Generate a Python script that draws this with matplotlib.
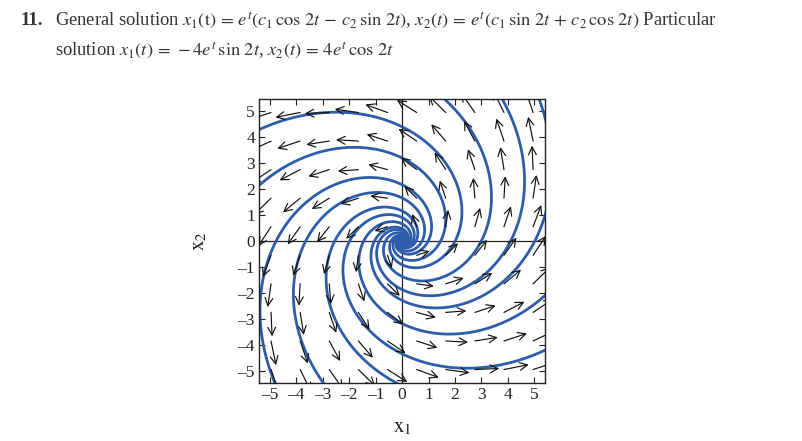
import numpy as np
import matplotlib
matplotlib.use("Agg")
import matplotlib.pyplot as plt
from matplotlib.patches import FancyArrowPatch

plt.rcParams['font.family'] = ['Liberation Serif', 'DejaVu Serif']
plt.rcParams['mathtext.fontset'] = 'stix'

# system x' = A x
A = np.array([[1.0, -2.0], [2.0, 1.0]])
# direction field sample points (same for x1 and x2)
grid_pts = [-4.95, -3.85, -2.75, -1.65, -0.55, 0.55, 1.65, 2.75, 3.85, 4.95]
# trajectories: c1 = 0, c2 = x2 value at t = 0
c2_vals = [20.9, 15.3, 11.0, 9.0, 6.57, 4.4, 3.2, 2.17, 1.66, 1.16]
ticks = [-5, -4, -3, -2, -1, 0, 1, 2, 3, 4, 5]

line1 = (r"General solution $x_1(\mathrm{t})\, =\, e^t(c_1\,\cos\, 2t\, -\, c_2\,\sin\, 2t)$, "
         r"$x_2(t)\, =\, e^t(c_1\,\sin\, 2t\, +\, c_2\,\cos\, 2t)$ Particular")
line2 = r"solution $x_1(t)\, =\, -4e^t\,\sin\, 2t$, $x_2(t)\, =\, 4e^t\,\cos\, 2t$"

fig = plt.figure(figsize=(8.03, 4.41), dpi=100)
fig.text(0.026, 0.953, "11.", fontsize=13.5, fontweight='bold', color='#333333', va='center')
fig.text(0.068, 0.953, line1, fontsize=13.3, color='#333333', va='center')
fig.text(0.068, 0.885, line2, fontsize=13.3, color='#333333', va='center')

ax = fig.add_axes([0.3227, 0.1315, 0.356, 0.644])
lim_x, lim_y = 5.4, 5.47
ax.set_xlim(-lim_x, lim_x)
ax.set_ylim(-lim_y, lim_y)

ax.axhline(0, color='#222222', lw=0.9, zorder=1)
ax.axvline(0, color='#222222', lw=0.9, zorder=1)

t = np.linspace(-11, 3, 7000)
for c2 in c2_vals:
    x1 = -c2 * np.exp(t) * np.sin(2 * t)
    x2 = c2 * np.exp(t) * np.cos(2 * t)
    ax.plot(x1, x2, color='#2D5CAA', lw=2.0, zorder=2, solid_capstyle='round')

for gx in grid_pts:
    for gy in grid_pts:
        p = np.array([gx, gy])
        v = A @ p
        mag = np.hypot(*v)
        L = 0.52 * (mag / 1.74) ** 0.29
        q = p + L * v / mag
        arr = FancyArrowPatch(tuple(p), tuple(q), arrowstyle='->', mutation_scale=14,
                              lw=0.85, color='#111111', shrinkA=0, shrinkB=0, zorder=3)
        ax.add_patch(arr)

ax.set_xticks(ticks)
ax.set_yticks(ticks)
ax.set_xticklabels([str(v).replace('-', '\u2013') for v in ticks])
ax.set_yticklabels([str(v).replace('-', '\u2013') for v in ticks])
ax.tick_params(direction='in', length=4, width=0.8, top=True, right=True,
               labelsize=12.5, colors='#222222', pad=3)
for s in ax.spines.values():
    s.set_linewidth(1.0)
    s.set_color('#222222')

ax.set_xlabel(r"$\mathrm{x}_1$", fontsize=15, color='#222222', labelpad=11)
ax.set_ylabel(r"$\mathrm{x}_2$", fontsize=15, color='#222222', labelpad=20)

fig.savefig("out.png", dpi=100)
